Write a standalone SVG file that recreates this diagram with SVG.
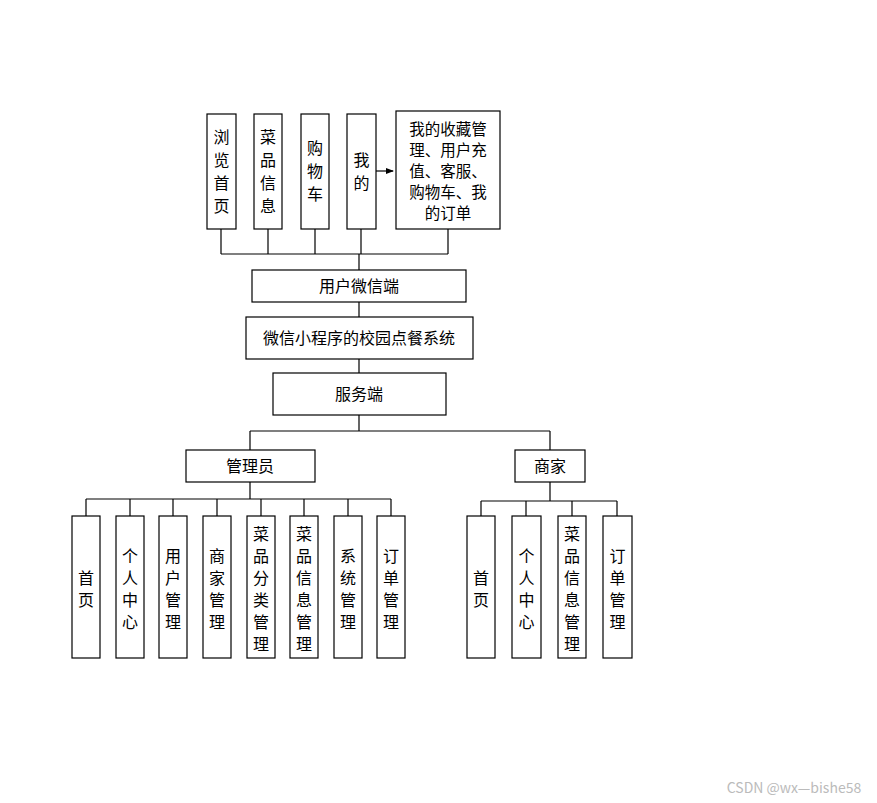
<svg xmlns="http://www.w3.org/2000/svg" width="877" height="803" viewBox="0 0 877 803">
<defs>
<style>
rect{fill:#fff;stroke:#000;stroke-width:1.2}
text{font-family:"Noto Sans CJK SC","Liberation Sans",sans-serif;font-size:16px;fill:#000;text-anchor:middle}
.c path{fill:none;stroke:#000;stroke-width:1.2}
</style>
<marker id="ah" markerWidth="8" markerHeight="8" refX="7" refY="4" orient="auto" markerUnits="userSpaceOnUse"><path d="M0,1 L8,4 L0,7 Z" fill="#000"/></marker>
</defs>
<rect x="0" y="0" width="877" height="803" style="stroke:none"/>
<g class="c">
<path d="M221,229V254M268,229V254M315,229V254M361,229V254M448,229V254M221,254H448M359,254V270M359,302V317M359,359V373M359,415V431M250,431H550M250,431V450M550,431V450"/>
<path d="M376,171H393" marker-end="url(#ah)"/>
<path d="M250,482V499M86,499H391M86,499V516M130,499V516M173,499V516M217,499V516M261,499V516M304,499V516M348,499V516M391,499V516"/>
<path d="M550,482V501M481,501H617M481,501V516M526,501V516M572,501V516M617,501V516"/>
</g>
<g id="n1"><rect x="207" y="114" width="29" height="115"/><text><tspan x="221.5" y="143">浏</tspan><tspan x="221.5" y="166">览</tspan><tspan x="221.5" y="189">首</tspan><tspan x="221.5" y="212">页</tspan></text></g>
<g id="n2"><rect x="254" y="114" width="28" height="115"/><text><tspan x="268" y="143">菜</tspan><tspan x="268" y="166">品</tspan><tspan x="268" y="189">信</tspan><tspan x="268" y="212">息</tspan></text></g>
<g id="n3"><rect x="301" y="114" width="28" height="115"/><text><tspan x="315" y="154">购</tspan><tspan x="315" y="177">物</tspan><tspan x="315" y="200">车</tspan></text></g>
<g id="n4"><rect x="347" y="114" width="29" height="115"/><text><tspan x="361.5" y="166">我</tspan><tspan x="361.5" y="189">的</tspan></text></g>
<g id="n5"><rect x="396" y="111" width="104" height="118"/><text style="font-size:15.5px"><tspan x="448" y="135">我的收藏管</tspan><tspan x="448" y="156">理、用户充</tspan><tspan x="448" y="177">值、客服、</tspan><tspan x="448" y="198">购物车、我</tspan><tspan x="448" y="219">的订单</tspan></text></g>
<g id="n6"><rect x="252" y="270" width="214" height="32"/><text x="359" y="292">用户微信端</text></g>
<g id="n7"><rect x="246" y="317" width="227" height="42"/><text x="359" y="344">微信小程序的校园点餐系统</text></g>
<g id="n8"><rect x="273" y="373" width="173" height="42"/><text x="359" y="400">服务端</text></g>
<g id="n9"><rect x="186" y="450" width="129" height="32"/><text x="250" y="472">管理员</text></g>
<g id="n10"><rect x="515" y="450" width="70" height="32"/><text x="550" y="472">商家</text></g>
<g id="a1"><rect x="72" y="516" width="28" height="142"/><text><tspan x="86" y="584">首</tspan><tspan x="86" y="606">页</tspan></text></g>
<g id="a2"><rect x="116" y="516" width="28" height="142"/><text><tspan x="130" y="562">个</tspan><tspan x="130" y="584">人</tspan><tspan x="130" y="606">中</tspan><tspan x="130" y="628">心</tspan></text></g>
<g id="a3"><rect x="159" y="516" width="28" height="142"/><text><tspan x="173" y="562">用</tspan><tspan x="173" y="584">户</tspan><tspan x="173" y="606">管</tspan><tspan x="173" y="628">理</tspan></text></g>
<g id="a4"><rect x="203" y="516" width="28" height="142"/><text><tspan x="217" y="562">商</tspan><tspan x="217" y="584">家</tspan><tspan x="217" y="606">管</tspan><tspan x="217" y="628">理</tspan></text></g>
<g id="a5"><rect x="247" y="516" width="28" height="142"/><text><tspan x="261" y="540">菜</tspan><tspan x="261" y="562">品</tspan><tspan x="261" y="584">分</tspan><tspan x="261" y="606">类</tspan><tspan x="261" y="628">管</tspan><tspan x="261" y="650">理</tspan></text></g>
<g id="a6"><rect x="290" y="516" width="28" height="142"/><text><tspan x="304" y="540">菜</tspan><tspan x="304" y="562">品</tspan><tspan x="304" y="584">信</tspan><tspan x="304" y="606">息</tspan><tspan x="304" y="628">管</tspan><tspan x="304" y="650">理</tspan></text></g>
<g id="a7"><rect x="334" y="516" width="28" height="142"/><text><tspan x="348" y="562">系</tspan><tspan x="348" y="584">统</tspan><tspan x="348" y="606">管</tspan><tspan x="348" y="628">理</tspan></text></g>
<g id="a8"><rect x="377" y="516" width="28" height="142"/><text><tspan x="391" y="562">订</tspan><tspan x="391" y="584">单</tspan><tspan x="391" y="606">管</tspan><tspan x="391" y="628">理</tspan></text></g>
<g id="m1"><rect x="467" y="516" width="28" height="142"/><text><tspan x="481" y="584">首</tspan><tspan x="481" y="606">页</tspan></text></g>
<g id="m2"><rect x="512" y="516" width="29" height="142"/><text><tspan x="526.5" y="562">个</tspan><tspan x="526.5" y="584">人</tspan><tspan x="526.5" y="606">中</tspan><tspan x="526.5" y="628">心</tspan></text></g>
<g id="m3"><rect x="558" y="516" width="28" height="142"/><text><tspan x="572" y="540">菜</tspan><tspan x="572" y="562">品</tspan><tspan x="572" y="584">信</tspan><tspan x="572" y="606">息</tspan><tspan x="572" y="628">管</tspan><tspan x="572" y="650">理</tspan></text></g>
<g id="m4"><rect x="603" y="516" width="29" height="142"/><text><tspan x="617.5" y="562">订</tspan><tspan x="617.5" y="584">单</tspan><tspan x="617.5" y="606">管</tspan><tspan x="617.5" y="628">理</tspan></text></g>
<text x="794" y="793" style="font-size:14px;fill:#bbb">CSDN @wx—bishe58</text>
</svg>
